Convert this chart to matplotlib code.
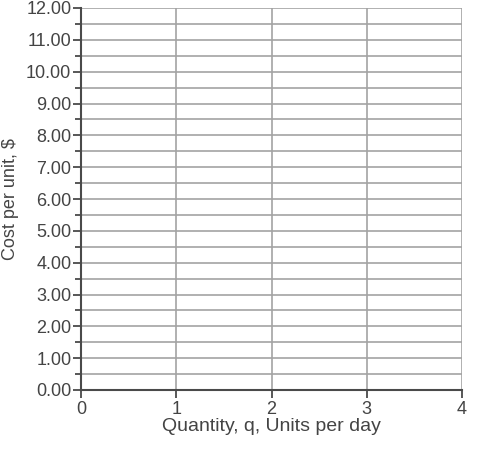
import matplotlib
matplotlib.use('Agg')
import matplotlib.pyplot as plt
from matplotlib.ticker import MultipleLocator, FormatStrFormatter

plt.rcParams['font.family'] = ['Liberation Sans', 'DejaVu Sans']

# axis ranges and ticks
x_ticks = [0, 1, 2, 3, 4]
y_major = [0, 1, 2, 3, 4, 5, 6, 7, 8, 9, 10, 11, 12]
y_minor_step = 0.5
x_label = 'Quantity, q, Units per day'
y_label = 'Cost per unit, $'

SPINE = '#4a4a4a'
GRID = '#a3a3a3'
TEXT = '#444444'

fig = plt.figure(figsize=(5.04, 4.49), dpi=100)
ax = fig.add_axes([81 / 504, 1 - 390 / 449, (462 - 81) / 504, (390 - 8) / 449])

ax.set_xlim(x_ticks[0], x_ticks[-1])
ax.set_ylim(y_major[0], y_major[-1])
ax.set_xticks(x_ticks)
ax.set_yticks(y_major)
ax.yaxis.set_minor_locator(MultipleLocator(y_minor_step))
ax.yaxis.set_major_formatter(FormatStrFormatter('%.2f'))

ax.grid(True, which='major', axis='x', color=GRID, lw=1.2)
ax.grid(True, which='both', axis='y', color=GRID, lw=1.2)
ax.set_axisbelow(True)

for side in ['top', 'right']:
    ax.spines[side].set_visible(False)
for side in ['left', 'bottom']:
    ax.spines[side].set_color(SPINE)
    ax.spines[side].set_linewidth(1.5)

ax.tick_params(axis='both', which='major', length=6, width=1.3, color=SPINE,
               labelcolor=TEXT, labelsize=13, pad=1)
ax.tick_params(axis='x', which='major', pad=2)
ax.tick_params(axis='y', which='minor', length=4, width=1.3, color=SPINE)

ax.set_xlabel(x_label, fontsize=14, color=TEXT, labelpad=0)
ax.set_ylabel(y_label, fontsize=13, color=TEXT)
ax.yaxis.set_label_coords(-0.163, 0.5)

fig.savefig('out.png', dpi=100)
